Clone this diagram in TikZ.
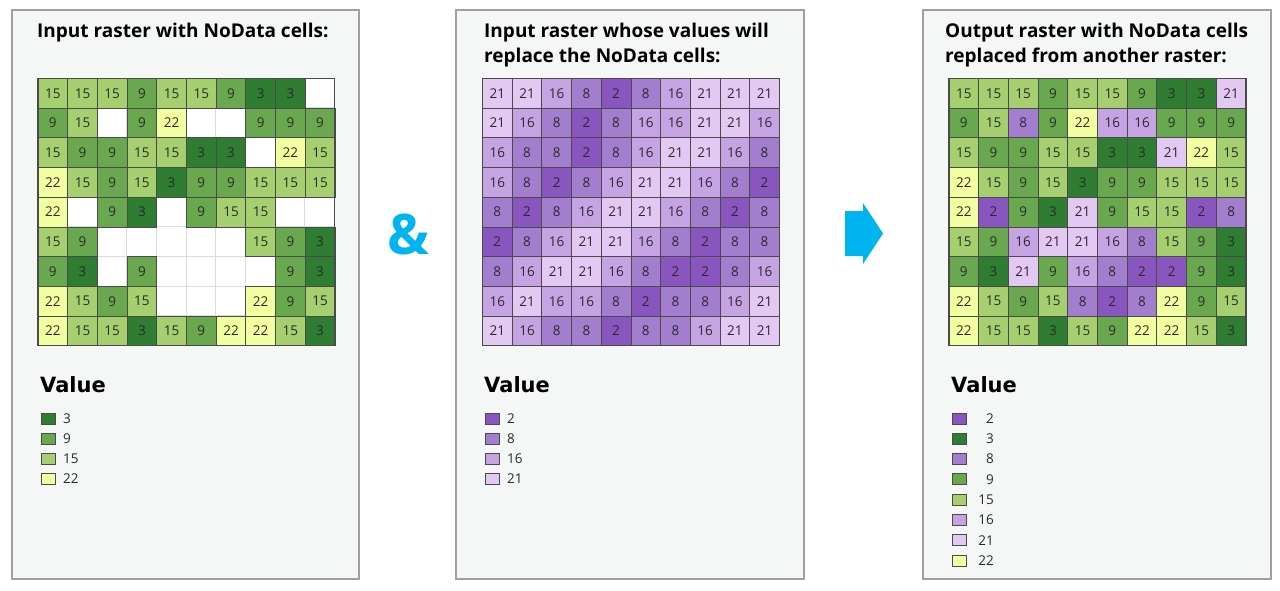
\documentclass[tikz,border=0pt]{standalone}
\usepackage{fontspec}
\setmainfont{Open Sans}
\newfontfamily\valuefont{DejaVu Sans}
\usepackage{ifthen}
\definecolor{panelfill}{HTML}{F5F7F7}
\definecolor{paneledge}{HTML}{A0A0A0}
\definecolor{celledge}{HTML}{4A4A4A}
\definecolor{lightline}{HTML}{DCDCDC}
\definecolor{celltext}{HTML}{2A2A2A}
\definecolor{accent}{HTML}{00B5EF}
\definecolor{v3}{HTML}{2E7D32}
\definecolor{v9}{HTML}{6AA84F}
\definecolor{v15}{HTML}{A6D070}
\definecolor{v22}{HTML}{F2FFA0}
\definecolor{v2}{HTML}{8955BE}
\definecolor{v8}{HTML}{A47ECE}
\definecolor{v16}{HTML}{C6A4E4}
\definecolor{v21}{HTML}{E2C8F2}
\newcommand\cellfont{\fontsize{13.5}{13.5}\selectfont}
\newcommand\cellsize{29.7}
\tikzset{
  panel/.style={draw=paneledge, line width=1.4pt, fill=panelfill},
  cellbox/.style={draw=celledge, line width=0.9pt, minimum width=29.7pt, minimum height=29.7pt,
    inner sep=0pt, anchor=north west, font=\cellfont, text=celltext},
  titletext/.style={anchor=base west, inner sep=0pt, font=\fontsize{19}{25}\selectfont\bfseries, align=left, text=black},
  valuetext/.style={anchor=base west, inner sep=0pt, font=\fontsize{21}{21}\selectfont\valuefont\bfseries, text=black},
  legpatch/.style={draw=celledge, line width=0.9pt, minimum width=14pt, minimum height=11pt, inner sep=0pt, anchor=west},
  legtext/.style={inner sep=0pt, font=\fontsize{13.5}{13.5}\selectfont, text=celltext},
}
\newcommand\rastergrid[3]{%
  \foreach \row [count=\r from 0] in {#3} {
    \foreach \v [count=\c from 0] in \row {
      \ifthenelse{\equal{\v}{N}}{}{%
        \node[cellbox, fill=v\v] (#1-\r-\c) at ({#2+\c*\cellsize},{78+\r*\cellsize}) {\v};}
    }
  }
  \draw[celledge, line width=0.9pt] (#2,78) rectangle ++(297,267.3);
}
\begin{document}
\begin{tikzpicture}[x=1pt,y=-1pt]
\useasboundingbox[fill=white] (0,0) rectangle (1280,590);
% panels
\draw[panel] (12,10) rectangle (359,579);
\draw[panel] (456,10) rectangle (804,579);
\draw[panel] (923,10) rectangle (1271,579);
% titles
\node[titletext] (t1) at (37,37) {Input raster with NoData cells:};
\node[titletext] (t2) at (484,62) {Input raster whose values will\\replace the NoData cells:};
\node[titletext] (t3) at (945,62) {Output raster with NoData cells\\replaced from another raster:};
% grid 1 underlay (NoData cells)
\fill[white] (37.5,78) rectangle ++(297,267.3);
\foreach \i in {1,...,9} \draw[lightline, line width=0.8pt] ({37.5+\i*\cellsize},78) -- ++(0,267.3);
\foreach \i in {1,...,8} \draw[lightline, line width=0.8pt] (37.5,{78+\i*\cellsize}) -- ++(297,0);
\rastergrid{a}{37.5}{
 {15,15,15,9,15,15,9,3,3,N},
 {9,15,N,9,22,N,N,9,9,9},
 {15,9,9,15,15,3,3,N,22,15},
 {22,15,9,15,3,9,9,15,15,15},
 {22,N,9,3,N,9,15,15,N,N},
 {15,9,N,N,N,N,N,15,9,3},
 {9,3,N,9,N,N,N,N,9,3},
 {22,15,9,15,N,N,N,22,9,15},
 {22,15,15,3,15,9,22,22,15,3}}
\rastergrid{b}{482}{
 {21,21,16,8,2,8,16,21,21,21},
 {21,16,8,2,8,16,16,21,21,16},
 {16,8,8,2,8,16,21,21,16,8},
 {16,8,2,8,16,21,21,16,8,2},
 {8,2,8,16,21,21,16,8,2,8},
 {2,8,16,21,21,16,8,2,8,8},
 {8,16,21,21,16,8,2,2,8,16},
 {16,21,16,16,8,2,8,8,16,21},
 {21,16,8,8,2,8,8,16,21,21}}
\rastergrid{c}{948.5}{
 {15,15,15,9,15,15,9,3,3,21},
 {9,15,8,9,22,16,16,9,9,9},
 {15,9,9,15,15,3,3,21,22,15},
 {22,15,9,15,3,9,9,15,15,15},
 {22,2,9,3,21,9,15,15,2,8},
 {15,9,16,21,21,16,8,15,9,3},
 {9,3,21,9,16,8,2,2,9,3},
 {22,15,9,15,8,2,8,22,9,15},
 {22,15,15,3,15,9,22,22,15,3}}
% ampersand and arrow
\node[inner sep=0pt, text=accent, font=\fontsize{56}{56}\selectfont\bfseries] (amp) at (408,234) {\&};
\fill[accent] (845,211) -- (863,211) -- (863,203) -- (883,233.5) -- (863,264) -- (863,256) -- (845,256) -- cycle;
% legends
\node[valuetext] (val1) at (40,392) {Value};
\node[valuetext] (val2) at (484,392) {Value};
\node[valuetext] (val3) at (951,392) {Value};
\foreach \v [count=\i from 0] in {3,9,15,22} {
  \node[legpatch, fill=v\v] (la\i) at (41,{418.5+\i*20}) {};
  \node[legtext, anchor=west] (lat\i) at (63,{418.5+\i*20}) {\v};
}
\foreach \v [count=\i from 0] in {2,8,16,21} {
  \node[legpatch, fill=v\v] (lb\i) at (485,{418.5+\i*20}) {};
  \node[legtext, anchor=west] (lbt\i) at (507,{418.5+\i*20}) {\v};
}
\foreach \v [count=\i from 0] in {2,3,8,9,15,16,21,22} {
  \node[legpatch, fill=v\v] (lc\i) at (952,{418.5+\i*20.3}) {};
  \node[legtext, anchor=east] (lct\i) at (994,{418.5+\i*20.3}) {\v};
}
\end{tikzpicture}
\end{document}
